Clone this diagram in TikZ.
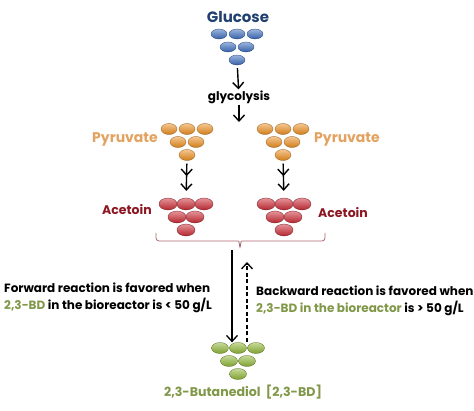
\documentclass[tikz,border=0pt]{standalone}
\usepackage{fontspec}
\setmainfont{Poppins}
\usetikzlibrary{shapes.geometric,arrows.meta}

\definecolor{glcblue}{RGB}{58,108,190}
\definecolor{glctext}{RGB}{32,64,112}
\definecolor{pyrorange}{RGB}{236,142,30}
\definecolor{pyrtext}{RGB}{228,162,96}
\definecolor{acred}{RGB}{204,42,52}
\definecolor{actext}{RGB}{140,22,34}
\definecolor{bdgreen}{RGB}{142,182,52}
\definecolor{bdtext}{RGB}{128,152,72}
\definecolor{bracecol}{RGB}{170,104,112}

\tikzset{
  bead/.style={ellipse, inner sep=0pt, minimum width=16pt, minimum height=10pt,
    draw=#1!60!black, line width=0.3pt, top color=#1!50!white, bottom color=#1!88!black},
  arr/.style={line width=1.4pt, -{Straight Barb[length=6pt,width=11pt]}},
  dblarr/.style={line width=1.4pt, -{Straight Barb[length=6pt,width=11pt,sep=7pt]Straight Barb[length=6pt,width=11pt]}},
  lbl/.style={font=\bfseries, inner sep=1pt}
}

% six beads: name prefix, colour, x of the point, y of the top row
\newcommand\grapes[4]{
  \foreach \n/\dx/\dy in {1/-18/0,2/0/0,3/18/0,4/-9/13,5/9/13,6/0/26}
    \node[bead=#2] (#1\n) at (#3+\dx,#4+\dy) {};
}

\begin{document}
\begin{tikzpicture}[x=1pt,y=-1pt]
\useasboundingbox[fill=white] (0,0) rectangle (474,411);

% glucose
\node[lbl, text=glctext, font=\bfseries\fontsize{15}{17}\selectfont] (glc) at (238,17) {Glucose};
\grapes{glc}{glcblue}{237}{34}
\node[lbl, font=\bfseries\fontsize{12}{14}\selectfont] (glyc) at (239,97) {glycolysis};
\coordinate (split) at (239,122);
\draw[arr, shorten <=3pt] (glc6) -- (glyc);
\draw[arr] (glyc) -- (split);

% pyruvate
\tikzset{bead/.append style={minimum height=11pt}}
\grapes{pyl}{pyrorange}{187}{129}
\grapes{pyr}{pyrorange}{283}{129}
\node[lbl, text=pyrtext, font=\bfseries\fontsize{14}{16}\selectfont, anchor=east] (pyltxt) at (159,139) {Pyruvate};
\node[lbl, text=pyrtext, font=\bfseries\fontsize{14}{16}\selectfont, anchor=west] (pyrtxt) at (313,139) {Pyruvate};

% acetoin
\tikzset{bead/.append style={minimum width=18pt, minimum height=12pt}}
\grapes{acl}{acred}{186}{204}
\grapes{acr}{acred}{284}{204}
\node[lbl, text=actext, font=\bfseries\fontsize{12.5}{14}\selectfont, anchor=east] (acltxt) at (153,210) {Acetoin};
\node[lbl, text=actext, font=\bfseries\fontsize{12.5}{14}\selectfont, anchor=west] (acrtxt) at (317,213) {Acetoin};

\draw[dblarr, shorten <=3pt, shorten >=7pt] (pyl6) -- (acl2);
\draw[dblarr, shorten <=3pt, shorten >=7pt] (pyr6) -- (acr2);

% brace
\coordinate (join) at (240,249);
\draw[bracecol, line width=0.8pt, rounded corners=3pt]
  (156,233) |- (235,241) .. controls (239,241) .. (join)
  .. controls (241,241) .. (245,241) -| (325,233);

% 2,3-butanediol
\tikzset{bead/.append style={minimum width=17pt, minimum height=11pt}}
\grapes{bd}{bdgreen}{238}{348}
\node[lbl, text=bdtext, font=\bfseries\fontsize{12.6}{14}\selectfont] (bdtxt) at (243,392) {2,3-Butanediol~~[2,3-BD]};

\coordinate (fwdtop) at (232,250);
\coordinate (bwdtop) at (247,262);
\coordinate (bwdbot) at (247,342);
\draw[arr, line width=1.3pt] (fwdtop) -- (fwdtop |- bd1.north);
\draw[arr, line width=1.3pt, dash pattern=on 4pt off 2.5pt] (bwdbot) -- (bwdtop);

\node[lbl, anchor=west, align=left, font=\bfseries\fontsize{12}{17}\selectfont] (fwd) at (3,298)
  {Forward reaction is favored when\\{\color{bdtext}2,3-BD} in the bioreactor is < 50 g/L};
\node[lbl, anchor=west, align=left, font=\bfseries\fontsize{12}{17}\selectfont] (bwd) at (255,301)
  {Backward reaction is favored when\\{\color{bdtext}2,3-BD in the bioreactor} is > 50 g/L};
\end{tikzpicture}
\end{document}
